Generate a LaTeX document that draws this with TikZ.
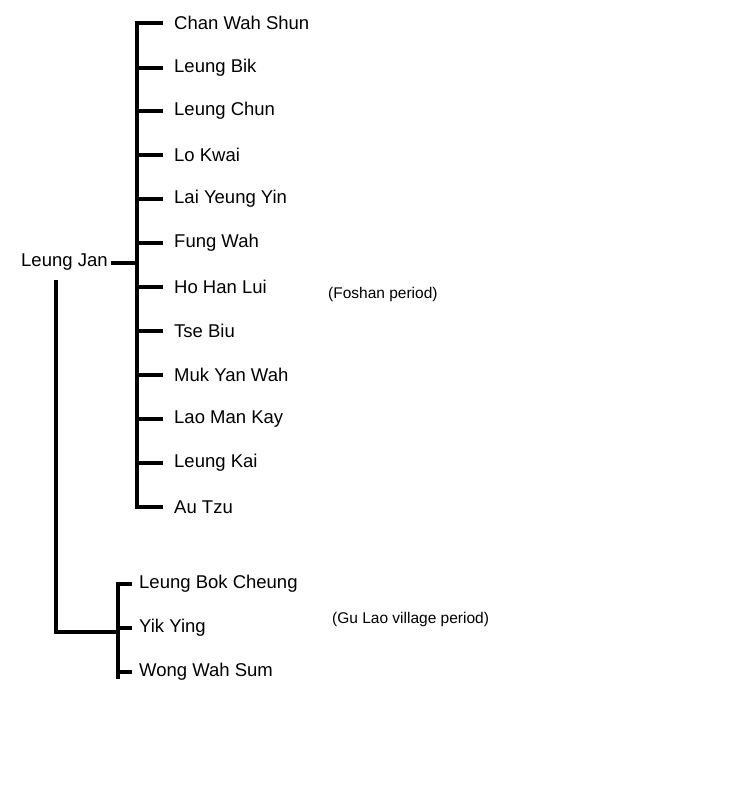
\documentclass[tikz,border=0pt]{standalone}
\usepackage{fontspec}
\setmainfont{Liberation Sans}
\begin{document}
\begin{tikzpicture}[x=1pt,y=-1pt,
  nm/.style={anchor=west,inner sep=0pt,font=\fontsize{18.5}{20}\selectfont},
  lb/.style={anchor=west,inner sep=0pt,font=\fontsize{15.5}{17}\selectfont},
  ln/.style={line width=3.2pt}]
\useasboundingbox (0,0) rectangle (738,796);
\node[nm] (root) at (21,262) {Leung Jan};
\coordinate (j) at (137,263);
\draw[ln] (root.east |- j) ++(3,0) -- (j);
\draw[ln] (137,21) -- (137,509);
\foreach \n/\y [count=\i] in {Chan Wah Shun/23,Leung Bik/68,Leung Chun/111,Lo Kwai/155,Lai Yeung Yin/199,Fung Wah/243,Ho Han Lui/287,Tse Biu/331,Muk Yan Wah/375,Lao Man Kay/419,Leung Kai/463,Au Tzu/507}{
  \node[nm] (a\i) at (174,\y) {\n};
  \draw[ln] (135.4,\y) -- (163,\y);
}
\node[lb] (fo) at (328,294) {(Foshan period)};
\draw[ln] (56,280) -- (56,632) -- (118,632);
\draw[ln] (118,582.4) -- (118,678.6);
\foreach \n/\y [count=\i] in {Leung Bok Cheung/584,Yik Ying/628,Wong Wah Sum/672}{
  \node[nm] (b\i) at (139,\y) {\n};
  \draw[ln] (116.4,\y) -- (132,\y);
}
\node[lb] (gu) at (332,619) {(Gu Lao village period)};
\end{tikzpicture}
\end{document}
